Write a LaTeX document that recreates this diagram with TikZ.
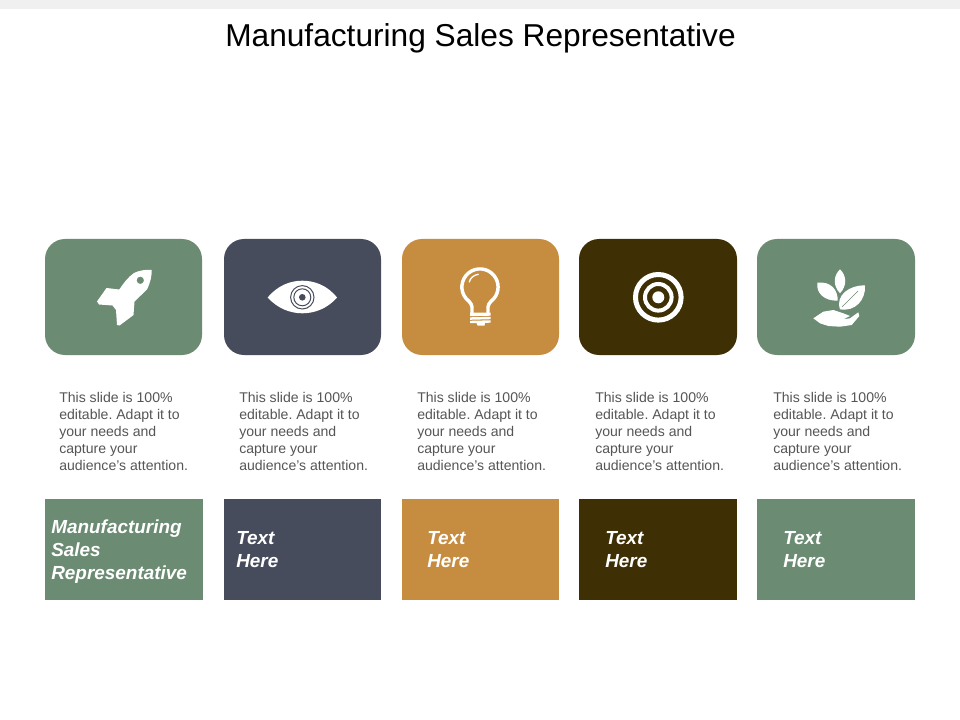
\documentclass[tikz,border=0pt]{standalone}
\usepackage{fontspec}
\setmainfont{Liberation Sans}
\frenchspacing
\definecolor{cgreen}{HTML}{6B8B73}
\definecolor{cslate}{HTML}{474C5C}
\definecolor{cgold}{HTML}{C68C3F}
\definecolor{cbrown}{HTML}{3F2F04}
\definecolor{cbody}{HTML}{555555}
\definecolor{cband}{HTML}{F0F0F0}
\tikzset{
  card/.style={draw=none,inner sep=0pt,minimum height=87pt,rounded corners=15pt},
  label box/.style={draw=none,inner sep=0pt,minimum height=75.75pt},
  body text/.style={anchor=west,inner sep=0pt,align=left,text=cbody,font=\fontsize{10.55}{12.75}\selectfont},
  tag text/.style={anchor=west,inner sep=0pt,align=left,text=white,font=\fontsize{14.2}{17.2}\selectfont\bfseries\itshape},
  title text/.style={inner sep=0pt,text=black,font=\fontsize{23.75}{28}\selectfont},
  icon line/.style={draw=white,fill=none}
}
\newcommand{\bodycopy}{This slide is 100\%\\editable. Adapt it to\\your needs and\\capture your\\audience\char"27 s attention.}
\begin{document}
\begin{tikzpicture}[x=0.75pt,y=-0.75pt]
\useasboundingbox (0,0) rectangle (960,720);
\fill[cband] (0,0) rectangle (960,9);
\node[title text] (title) at (480.5,38) {Manufacturing Sales Representative};
% cards
\node[card,fill=cgreen,minimum width=117.75pt] (c1) at (123.5,297) {};
\node[card,fill=cslate,minimum width=117.75pt] (c2) at (302.5,297) {};
\node[card,fill=cgold,minimum width=117.75pt] (c3) at (480.5,297) {};
\node[card,fill=cbrown,minimum width=118.5pt] (c4) at (658,297) {};
\node[card,fill=cgreen,minimum width=118.5pt] (c5) at (836,297) {};
% body
\node[body text] (b1) at (59,431.3) {\bodycopy};
\node[body text] (b2) at (239,431.3) {\bodycopy};
\node[body text] (b3) at (417,431.3) {\bodycopy};
\node[body text] (b4) at (595,431.3) {\bodycopy};
\node[body text] (b5) at (773,431.3) {\bodycopy};
% label boxes
\node[label box,fill=cgreen,minimum width=118.5pt] (l1) at (124,549.5) {};
\node[label box,fill=cslate,minimum width=117.75pt] (l2) at (302.5,549.5) {};
\node[label box,fill=cgold,minimum width=117.75pt] (l3) at (480.5,549.5) {};
\node[label box,fill=cbrown,minimum width=118.5pt] (l4) at (658,549.5) {};
\node[label box,fill=cgreen,minimum width=118.5pt] (l5) at (836,549.5) {};
\node[tag text] (t1) at (51,551.5) {Manufacturing\\Sales\\Representative};
\node[tag text] (t2) at (236,550) {Text\\Here};
\node[tag text] (t3) at (427,550) {Text\\Here};
\node[tag text] (t4) at (605,550) {Text\\Here};
\node[tag text] (t5) at (783,550) {Text\\Here};
% rocket
\fill[white,even odd rule] (151.5,269.8) .. controls (145,269.5) and (139,270.5) .. (134,273)
  .. controls (128,277) and (123,284) .. (119.3,289.5) -- (106.5,288) -- (97,301.5) -- (99,304.5) -- (112.5,305.5)
  -- (116,310) -- (117,325) -- (119.5,325.5) -- (133.5,315) -- (134.5,301.5) -- (147,289.5)
  .. controls (150.5,282) and (152,276) .. cycle
  (144,280.3) arc[start angle=0,end angle=360,radius=3.7];
% eye
\fill[white] (267.7,297.5) .. controls (278,285) and (291,280.7) .. (302.3,280.7)
  .. controls (314,280.7) and (327,285) .. (337,297.5)
  .. controls (327,309) and (314,313.3) .. (302.3,313.3)
  .. controls (291,313.3) and (278,309) .. cycle;
\draw[cslate,line width=0.75pt] (302.3,297.3) circle[radius=11.7];
\draw[cslate,line width=0.75pt] (302.3,297.3) circle[radius=8.5];
\fill[cslate] (302.3,297.3) circle[radius=3.3];
% bulb
\draw[icon line,line width=2.6pt,line join=round]
  (472,313) -- (472,307) .. controls (471.5,303) and (468,300.5) .. (466,298.5)
  arc[start angle=140.6,end angle=399.4,radius=18.1]
  .. controls (492,300.5) and (488.5,303) .. (488,307) -- (488,313);
\draw[icon line,line width=1pt,line cap=round] (469.3,282) .. controls (470,278) and (474,275) .. (478.3,274.3);
\fill[white] (470,312.7) -- (490.7,312.7) -- (490.7,315.7) -- (470,316.2) -- cycle
  (470,317.3) -- (490.7,316.8) -- (490.7,319.2) -- (470,319.8) -- cycle
  (470,320.8) -- (490.7,320.3) -- (490.7,322.6) -- (485,323) -- (484.5,325.5) -- (477.5,325.5) -- (476.7,323.2) -- (470,323.2) -- cycle;
% target
\draw[icon line,line width=3.75pt] (658.3,297.3) circle[radius=22.8];
\draw[icon line,line width=3pt] (658.3,297.3) circle[radius=13.3];
\fill[white] (658.3,297.3) circle[radius=6];
% plant
\fill[white] (840,293.3) .. controls (833,286) and (833,276) .. (840,269.3) .. controls (847,276) and (847,286) .. cycle;
\fill[white] (837.7,300.7) .. controls (824,301) and (816,293) .. (817.3,282.7) .. controls (831,281) and (838,290) .. cycle;
\fill[white] (840,309.3) .. controls (835,295) and (850,285) .. (865,285.3) .. controls (866,300) and (855,312) .. cycle;
\draw[cgreen,line width=0.4pt] (842,307) -- (858,291);
\fill[white] (813.3,318.3) -- (823.3,311.7) -- (833.3,310) -- (843.3,313.3) -- (850,316) -- (843.3,319.3) -- (850,318.3)
  -- (858.3,312.3) -- (859.3,316) -- (851.7,325) -- (840,326.7) -- (828.3,326) -- (820,323.3) -- cycle;
\end{tikzpicture}
\end{document}
